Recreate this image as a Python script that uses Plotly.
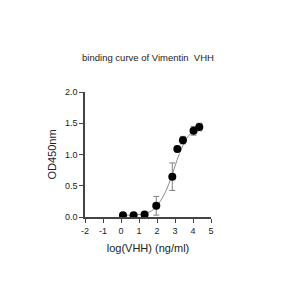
import plotly.graph_objects as go

log_conc = [0.11, 0.70, 1.31, 1.96, 2.85, 3.13, 3.44, 4.03, 4.35]
od450 = [0.03, 0.03, 0.04, 0.18, 0.645, 1.09, 1.23, 1.38, 1.44]
od_err = [0.01, 0.01, 0.01, 0.15, 0.22, 0.04, 0.06, 0.07, 0.06]

fit_x = [0.11, 0.6, 1.0, 1.4, 1.8, 2.2, 2.5, 2.8, 3.1, 3.4, 3.7, 4.0, 4.35]
fit_y = [0.03, 0.03, 0.04, 0.06, 0.12, 0.26, 0.42, 0.64, 0.9, 1.12, 1.28, 1.37, 1.43]

title_text = "binding curve of Vimentin  VHH"
x_title = "log(VHH) (ng/ml)"
y_title = "OD450nm"
x_ticks = [-2, -1, 0, 1, 2, 3, 4, 5]
y_ticks = [0.0, 0.5, 1.0, 1.5, 2.0]

fig = go.Figure()
fig.add_trace(go.Scatter(x=fit_x, y=fit_y, mode="lines", line=dict(color="#8c8c8c", width=1, shape="spline"),
                         hoverinfo="skip", showlegend=False))
fig.add_trace(go.Scatter(x=log_conc, y=od450, mode="markers",
                         marker=dict(color="black", size=8),
                         error_y=dict(type="data", array=od_err, color="#808080", thickness=1, width=3),
                         showlegend=False))

font = dict(family="Liberation Sans, Arial, sans-serif", size=9, color="#222")
fig.update_layout(
    width=300, height=300,
    paper_bgcolor="white", plot_bgcolor="white",
    margin=dict(l=85, r=89, t=92, b=83),
    font=font,
    title=dict(text=title_text, x=0.5, xref="paper", y=1 - 58/300, yanchor="middle",
               font=dict(family="Liberation Sans, Arial, sans-serif", size=9.5, color="#222")),
    xaxis=dict(range=[-2, 5], tickvals=x_ticks, ticktext=[str(v) for v in x_ticks],
               showgrid=False, zeroline=False, showline=True, linecolor="#444", linewidth=1.5,
               ticks="outside", ticklen=4, tickcolor="#444", tickwidth=1.2,
               title=dict(text=x_title, standoff=10), tickfont=font),
    yaxis=dict(range=[0, 2], tickvals=y_ticks, ticktext=["0.0", "0.5", "1.0", "1.5", "2.0"],
               showgrid=False, zeroline=False, showline=True, linecolor="#444", linewidth=1.5,
               ticks="outside", ticklen=4, tickcolor="#444", tickwidth=1.2,
               title=dict(text=y_title, standoff=6), tickfont=font),
)
fig.write_html("out.html")
